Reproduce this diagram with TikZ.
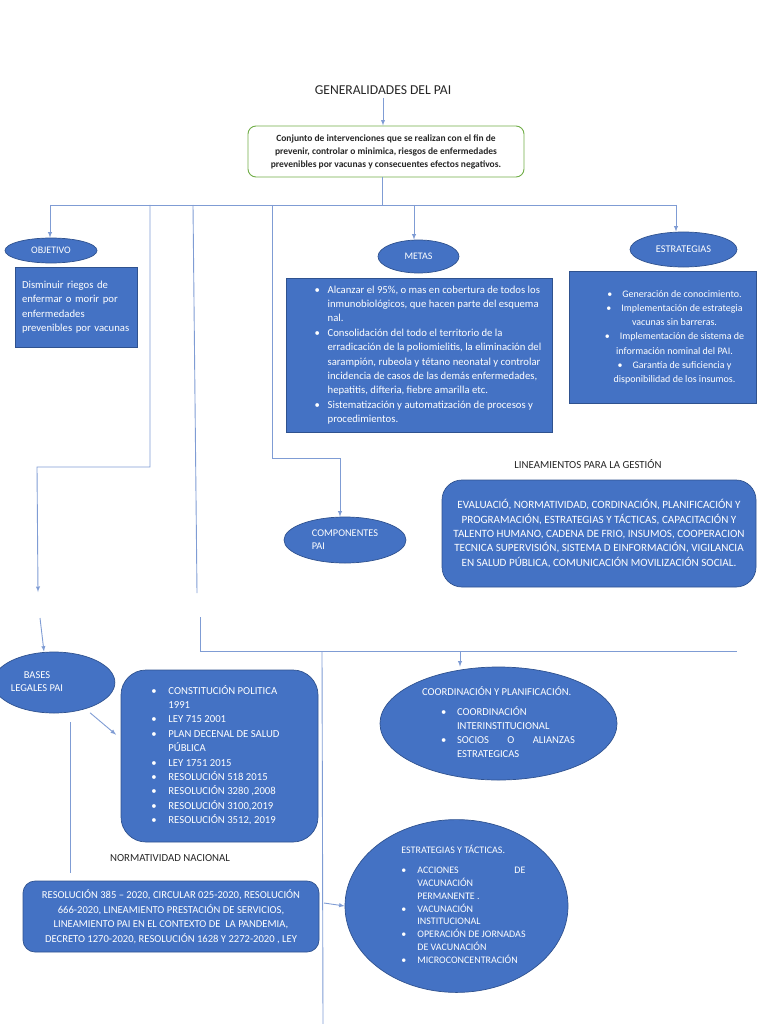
\documentclass[tikz,border=0pt]{standalone}
\usepackage{fontspec}
\setmainfont{Carlito}
\usepackage{tikz}
\usetikzlibrary{calc,arrows,shapes.geometric}

\definecolor{paiblue}{HTML}{4472C4}
\definecolor{paiedge}{HTML}{2F528F}
\definecolor{pailine}{HTML}{7F9CD4}
\definecolor{paigreen}{HTML}{70AD47}
\definecolor{paitext}{HTML}{262626}

\newcommand{\paisz}{\fontsize{10.7}{14.4}\selectfont}
\newcommand{\blt}{\textbullet}

\tikzset{
  blob/.style={ellipse,fill=paiblue,draw=paiedge,line width=0.7pt,text=white,inner sep=0pt,font=\paisz},
  bbox/.style={rectangle,fill=paiblue,draw=paiedge,line width=0.7pt,text=white,inner sep=0pt,font=\paisz},
  link/.style={draw=pailine,line width=0.9pt},
  linkarr/.style={link,-latex},
  lbl/.style={text=paitext,font=\fontsize{10.8}{12}\selectfont}
}

\begin{document}
\begin{tikzpicture}[x=1pt,y=-1pt]
\useasboundingbox (0,0) rectangle (768,1024);

% titulo y definicion
\node[lbl,font=\fontsize{13.6}{15}\selectfont](tit)at(383,90){GENERALIDADES DEL PAI};
\node[draw=paigreen,line width=0.9pt,rounded corners=8pt,minimum width=276pt,minimum height=51pt,align=center,
      text=paitext,font=\bfseries\fontsize{9.5}{13}\selectfont](def)at(386,151.5){Conjunto de intervenciones que se realizan con el fin de\\
      prevenir, controlar o minimica, riesgos de enfermedades\\prevenibles por vacunas y consecuentes efectos negativos.};

% primera fila
\node[blob,minimum width=92pt,minimum height=25pt,font=\fontsize{10}{11}\selectfont](obj)at(51,250.5){OBJETIVO};
\node[bbox,minimum width=122pt,minimum height=80pt,text width=108pt,align=left](objt)at(76,307){Disminuir riegos de\\
      enfermar o morir por\\enfermedades\\prevenibles por vacunas};
\node[blob,minimum width=81pt,minimum height=33pt,font=\fontsize{10}{11}\selectfont](metas)at(418.5,256.5){METAS};
\node[bbox,minimum width=266pt,minimum height=154pt](metast)at(419,355){\begin{tabular}{@{\hspace*{18pt}}p{13pt}@{}l@{}}
      \blt & Alcanzar el 95\%, o mas en cobertura de todos los\\
           & inmunobiológicos, que hacen parte del esquema\\
           & nal.\\
      \blt & Consolidación del todo el territorio de la\\
           & erradicación de la poliomielitis, la eliminación del\\
           & sarampión, rubeola y tétano neonatal y controlar\\
           & incidencia de casos de las demás enfermedades,\\
           & hepatitis, difteria, fiebre amarilla etc.\\
      \blt & Sistematización y automatización de procesos y\\
           & procedimientos.
      \end{tabular}};
\node[blob,minimum width=107pt,minimum height=35pt,font=\fontsize{10.3}{11}\selectfont](estr)at(683.5,249.5){ESTRATEGIAS};
\node[bbox,minimum width=187pt,minimum height=132pt,font=\fontsize{10}{14.2}\selectfont](estrt)at(662.5,337){\hspace*{24pt}\begin{tabular}{@{}c@{}}
      \blt\hspace{10pt}Generación de conocimiento.\\
      \blt\hspace{10pt}Implementación de estrategia\\
      vacunas sin barreras.\\
      \blt\hspace{10pt}Implementación de sistema de\\
      información nominal del PAI.\\
      \blt\hspace{10pt}Garantía de suficiencia y\\
      disponibilidad de los insumos.
      \end{tabular}};

% componentes y lineamientos
\node[blob,minimum width=122pt,minimum height=46pt,align=left,font=\fontsize{10.3}{13}\selectfont](comp)at(345,540){COMPONENTES\\PAI};
\node[lbl](lint)at(588,464){LINEAMIENTOS PARA LA GESTIÓN};
\node[bbox,rounded corners=20pt,minimum width=314pt,minimum height=107pt,align=center,font=\fontsize{11.1}{14.3}\selectfont](lin)at(599,533.5){EVALUACIÓ, NORMATIVIDAD, CORDINACIÓN, PLANIFICACIÓN Y\\
      PROGRAMACIÓN, ESTRATEGIAS Y TÁCTICAS, CAPACITACIÓN Y\\TALENTO HUMANO, CADENA DE FRIO, INSUMOS, COOPERACION\\
      TECNICA SUPERVISIÓN, SISTEMA D EINFORMACIÓN, VIGILANCIA\\EN SALUD PÚBLICA, COMUNICACIÓN MOVILIZACIÓN SOCIAL.};

% bases legales
\node[blob,minimum width=108pt,minimum height=61pt,font=\fontsize{10.5}{13.5}\selectfont](bases)at(54,682.5){\begin{tabular}{@{}c@{}}BASES\\LEGALES PAI\end{tabular}\hspace*{34pt}};
\node[bbox,rounded corners=25pt,minimum width=197pt,minimum height=172pt](basl)at(219.5,756){\begin{tabular}{@{}p{17pt}@{}l@{\hspace*{8pt}}}
      \blt & CONSTITUCIÓN POLITICA\\ & 1991\\
      \blt & LEY 715 2001\\
      \blt & PLAN DECENAL DE SALUD\\ & PÚBLICA\\
      \blt & LEY 1751 2015\\
      \blt & RESOLUCIÓN 518 2015\\
      \blt & RESOLUCIÓN 3280 ,2008\\
      \blt & RESOLUCIÓN 3100,2019\\
      \blt & RESOLUCIÓN 3512, 2019
      \end{tabular}};
\node[lbl](normt)at(170,858){NORMATIVIDAD NACIONAL};
\node[bbox,rounded corners=12pt,minimum width=296pt,minimum height=71pt,align=center,font=\fontsize{10.6}{14.5}\selectfont](norm)at(171,916.5){RESOLUCIÓN 385 -- 2020, CIRCULAR 025-2020, RESOLUCIÓN\\
      666-2020, LINEAMIENTO PRESTACIÓN DE SERVICIOS,\\LINEAMIENTO PAI EN EL CONTEXTO DE\ \ LA PANDEMIA,\\
      DECRETO 1270-2020, RESOLUCIÓN 1628 Y 2272-2020 , LEY};

% componentes del pai
\node[blob,minimum width=237pt,minimum height=113pt,font=\fontsize{10.6}{14}\selectfont](coord)at(498.5,723.5){\begin{tabular}{@{}p{35pt}@{}l@{}}
      \multicolumn{2}{@{}l@{}}{COORDINACIÓN Y PLANIFICACIÓN.}\\[6pt]
      \hspace*{19pt}\blt & COORDINACIÓN\\ & INTERINSTITUCIONAL\\
      \hspace*{19pt}\blt & \makebox[118pt][s]{SOCIOS\hfill O\hfill ALIANZAS}\\ & ESTRATEGICAS
      \end{tabular}};
\node[blob,minimum width=223pt,minimum height=172pt,font=\fontsize{10}{12.8}\selectfont](tact)at(456.5,906){\begin{tabular}{@{}p{16pt}@{}l@{\hspace*{-14pt}}}
      \multicolumn{2}{@{}l@{\hspace*{-14pt}}}{ESTRATEGIAS Y TÁCTICAS.}\\[7pt]
      \blt & \makebox[108pt][s]{ACCIONES\hfill DE}\\ & VACUNACIÓN\\ & PERMANENTE .\\
      \blt & VACUNACIÓN\\ & INSTITUCIONAL\\
      \blt & OPERACIÓN DE JORNADAS\\ & DE VACUNACIÓN\\
      \blt & MICROCONCENTRACIÓN
      \end{tabular}};

% conectores
\coordinate (j0) at (382,205);
\coordinate (jl) at (50,205);
\coordinate (jr) at (676,205);
\coordinate (jm) at (414,205);
\coordinate (jb) at (150,205);
\coordinate (jc) at (193,205);
\coordinate (jd) at (272,205);
\coordinate (bk2) at (37,467);
\coordinate (bk3) at (38,592);
\coordinate (bk4) at (40,618);
\coordinate (ck1) at (197,593);
\coordinate (ck2) at (200,617);
\coordinate (ck3) at (737,651);
\coordinate (ck4) at (460,651);
\coordinate (ck5) at (322,651);
\coordinate (ck6) at (323,1024);
\coordinate (ck7) at (324,903);
\coordinate (dk1) at (340,458);

\draw[linkarr](tit)--(tit|-def.north);
\draw[link](j0|-def.south)--(j0);
\draw[link](jl)--(jr);
\draw[linkarr](jl)--(jl|-obj.north);
\draw[linkarr](jm)--(jm|-metas.north);
\draw[linkarr](jr)--(jr|-estr.north);
\draw[linkarr](jb)|-(bk2)--(bk3);
\draw[linkarr](bk4)--([xshift=-10pt]bases.north);
\draw[link](jc)--(ck1);
\draw[link](ck2)|-(ck3);
\draw[linkarr](ck4)--(ck4|-coord.north);
\draw[link](ck5)--(ck6);
\draw[linkarr](ck7)--(tact.west);
\draw[linkarr](jd)|-(dk1)--(dk1|-comp.north);
\draw[linkarr,shorten <=6pt,shorten >=6pt](bases.-40)--(basl.170);
\draw[link,shorten <=9pt,shorten >=8pt]([xshift=16pt]bases.south)--([xshift=-101pt]norm.north);
\end{tikzpicture}
\end{document}
